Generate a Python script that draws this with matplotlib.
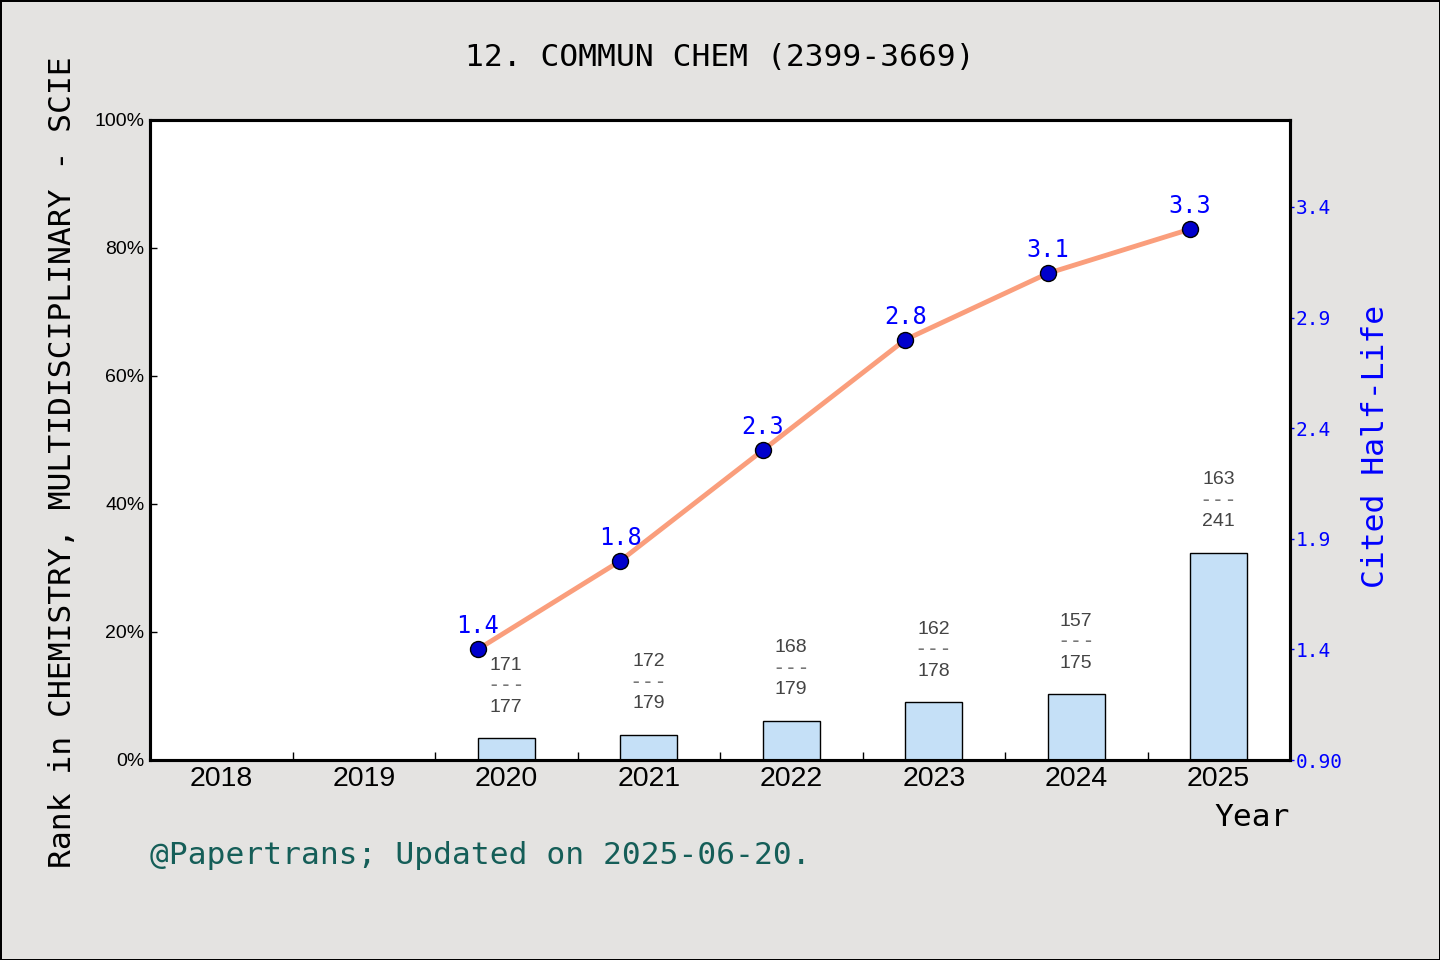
import numpy as np
import matplotlib
matplotlib.use('Agg')
import matplotlib.pyplot as plt

YEARS = ['2018', '2019', '2020', '2021', '2022', '2023', '2024', '2025']
RANK_YEARS = ['2020', '2021', '2022', '2023', '2024', '2025']
RANK = [171, 172, 168, 162, 157, 163]
TOTAL = [177, 179, 179, 178, 175, 241]
HALF_LIFE = [1.4, 1.8, 2.3, 2.8, 3.1, 3.3]
RIGHT_TICKS = [0.90, 1.4, 1.9, 2.4, 2.9, 3.4]
RIGHT_TICK_LABELS = ['0.90', '1.4', '1.9', '2.4', '2.9', '3.4']

MONO = 'DejaVu Sans Mono'
SANS = 'Liberation Sans'

fig = plt.figure(figsize=(14.4, 9.6), dpi=100)
fig.patch.set_facecolor('#e4e3e1')
fig.patch.set_edgecolor('black')
fig.patch.set_linewidth(2)

ax = fig.add_axes([150 / 1440, 1 - 760 / 960, 1140 / 1440, 640 / 960])
ax.set_facecolor('white')

# bars: share of journals ranked below
x_idx = np.array([YEARS.index(y) for y in RANK_YEARS])
pct = [(t - r) / t * 100 for r, t in zip(RANK, TOTAL)]
ax.bar(x_idx, pct, width=0.4, color='#c5e0f7', edgecolor='black', linewidth=1, zorder=2)
for xi, p, r, t in zip(x_idx, pct, RANK, TOTAL):
  ax.annotate(f"{t}", (xi, p), xytext=(0, 22.3), textcoords='offset points',
              ha='center', va='center', fontsize=14, color='#444444', family=SANS)
  ax.annotate("---", (xi, p), xytext=(0, 38.2), textcoords='offset points',
              ha='center', va='center', fontsize=15, color='#777777', family=MONO)
  ax.annotate(f"{r}", (xi, p), xytext=(0, 52.6), textcoords='offset points',
              ha='center', va='center', fontsize=14, color='#444444', family=SANS)

ax.set_xlim(-0.5, len(YEARS) - 0.5)
ax.set_ylim(0, 100)
ax.set_xticks(range(len(YEARS)))
ax.set_xticklabels(YEARS, family=SANS, fontsize=20.5)
ax.set_xticks(np.arange(0.5, len(YEARS) - 1, 1), minor=True)
ax.tick_params(axis='x', which='major', length=0, pad=4)
ax.tick_params(axis='x', which='minor', direction='in', length=6, width=1)
ax.set_yticks(range(0, 101, 20))
ax.set_yticklabels([f"{v}%" for v in range(0, 101, 20)], family=SANS, fontsize=14)
ax.tick_params(axis='y', direction='in', length=5, width=1, pad=4)
for s in ax.spines.values():
  s.set_linewidth(2.2)

ax.set_ylabel('Rank in CHEMISTRY, MULTIDISCIPLINARY - SCIE', family=MONO, fontsize=22.6)
ax.yaxis.set_label_coords((77 - 150) / 1140, (760 - 462) / 640)

# half-life line
ax2 = ax.twinx()
ax2.plot(x_idx - 0.2, HALF_LIFE, color='#fa9e7c', linewidth=3.5, zorder=3)
ax2.plot(x_idx - 0.2, HALF_LIFE, 'o', markersize=11.5, markerfacecolor='#0000cc',
         markeredgecolor='black', markeredgewidth=1, zorder=4)
for xi, v in zip(x_idx, HALF_LIFE):
  ax2.annotate(f"{v}", (xi - 0.2, v), xytext=(0, 8), textcoords='offset points',
               ha='center', va='bottom', fontsize=17, color='#0000ff', family=MONO)
ax2.set_ylim(0.90, 0.90 + 640 / 221.2)
ax2.set_yticks(RIGHT_TICKS)
ax2.set_yticklabels(RIGHT_TICK_LABELS, family=MONO, fontsize=14, color='#0000ff')
ax2.tick_params(axis='y', direction='out', length=3, width=1, pad=1, colors='#0000ff')
ax2.set_ylabel('Cited Half-Life', family=MONO, fontsize=22.6, color='#0000ff')
ax2.yaxis.set_label_coords((1361 - 150) / 1140, (760 - 446) / 640)
for s in ax2.spines.values():
  s.set_linewidth(2.2)

fig.text(720 / 1440, 1 - 57 / 960, '12. COMMUN CHEM (2399-3669)', ha='center', va='center',
         family=MONO, fontsize=22.5)
fig.text(1290 / 1440, 1 - 817 / 960, 'Year', ha='right', va='center', family=MONO, fontsize=22.5)
fig.text(150 / 1440, 1 - 855 / 960, '@Papertrans; Updated on 2025-06-20.', ha='left', va='center',
         family=MONO, fontsize=22.5, color='#155e58')

fig.savefig('out.png', dpi=100, facecolor=fig.get_facecolor(), edgecolor=fig.get_edgecolor())
